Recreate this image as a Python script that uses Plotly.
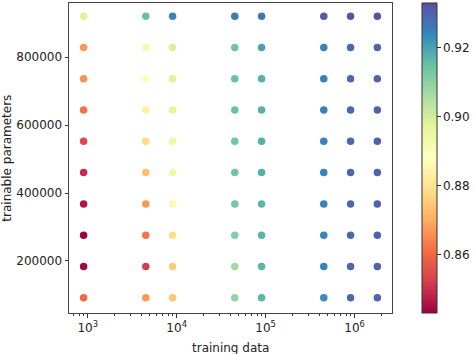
import plotly.graph_objects as go

training_data = [900, 4500, 9000, 45000, 90000, 450000, 900000, 1800000]
trainable_params = [92000, 184000, 276000, 368000, 460000, 552000, 644000, 736000, 828000, 920000]

# accuracy[col][row], rows bottom (92k) -> top (920k)
accuracy = [
    [0.860, 0.844, 0.843, 0.846, 0.849, 0.854, 0.862, 0.866, 0.867, 0.898],
    [0.867, 0.852, 0.862, 0.867, 0.873, 0.878, 0.883, 0.889, 0.892, 0.915],
    [0.874, 0.875, 0.879, 0.886, 0.893, 0.894, 0.897, 0.898, 0.899, 0.924],
    [0.909, 0.907, 0.911, 0.913, 0.914, 0.914, 0.915, 0.915, 0.914, 0.926],
    [0.917, 0.917, 0.917, 0.917, 0.918, 0.918, 0.918, 0.918, 0.920, 0.927],
    [0.923, 0.924, 0.924, 0.925, 0.925, 0.925, 0.925, 0.925, 0.925, 0.931],
    [0.929, 0.929, 0.929, 0.929, 0.929, 0.929, 0.929, 0.929, 0.929, 0.932],
    [0.930, 0.930, 0.930, 0.930, 0.930, 0.930, 0.930, 0.930, 0.930, 0.933],
]

xs, ys, cs = [], [], []
for i, xv in enumerate(training_data):
    for j, yv in enumerate(trainable_params):
        xs.append(xv)
        ys.append(yv)
        cs.append(accuracy[i][j])

cmin, cmax = min(cs), max(cs)
FONT = dict(family="DejaVu Sans", size=12, color="#222")

fig = go.Figure(go.Scatter(
    x=xs, y=ys, mode="markers",
    marker=dict(
        size=7.5, color=cs, colorscale="Spectral", cmin=cmin, cmax=cmax,
        line=dict(width=0),
        colorbar=dict(
            x=1.093, xanchor="left", xpad=0, y=0.5, yanchor="middle",
            len=1.0, lenmode="fraction", thickness=15, ypad=0,
            outlinewidth=1, outlinecolor="#333",
            tickmode="array", tickvals=[0.86, 0.88, 0.90, 0.92],
            ticktext=["0.86", "0.88", "0.90", "0.92"],
            ticks="outside", ticklen=3.5, tickcolor="#333",
            tickfont=FONT,
        ),
    ),
    showlegend=False,
))

minor_vals = []
for e in range(2, 7):
    for m in range(2, 10):
        minor_vals.append(m * 10 ** e)

fig.update_xaxes(
    type="log", range=[2.79, 6.42],
    tickmode="array", tickvals=[1e3, 1e4, 1e5, 1e6],
    ticktext=["10<sup>3</sup>", "10<sup>4</sup>", "10<sup>5</sup>", "10<sup>6</sup>"],
    ticks="outside", ticklen=3.5, tickcolor="#333",
    minor=dict(tickmode="array", tickvals=minor_vals, ticks="outside", ticklen=2, tickcolor="#333", showgrid=False),
    showline=True, linecolor="#444", linewidth=1, mirror=True,
    showgrid=False, zeroline=False,
    tickfont=FONT,
)
fig.update_yaxes(
    range=[47000, 959000],
    tickmode="array", tickvals=[200000, 400000, 600000, 800000],
    ticktext=["200000", "400000", "600000", "800000"],
    ticks="outside", ticklen=3.5, tickcolor="#333",
    showline=True, linecolor="#444", linewidth=1, mirror=True,
    showgrid=False, zeroline=False,
    tickfont=FONT,
)

fig.update_layout(
    width=474, height=354,
    margin=dict(l=69, r=71, t=3, b=41),
    paper_bgcolor="white", plot_bgcolor="white",
    annotations=[
        dict(text="training data", x=0.5, y=-0.085, xref="paper", yref="paper",
             xanchor="center", yanchor="top", showarrow=False, font=FONT),
        dict(text="trainable parameters", x=-0.193, y=0.5, xref="paper", yref="paper",
             xanchor="center", yanchor="middle", textangle=-90, showarrow=False,
             font=FONT),
    ],
)

fig.write_html("out.html")
